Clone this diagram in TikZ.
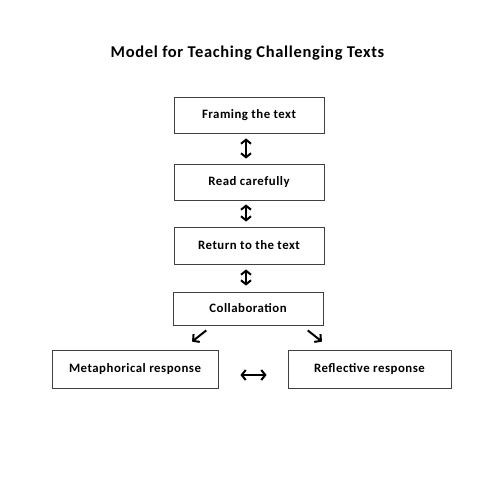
\documentclass[tikz,border=0pt]{standalone}
\usepackage{fontspec}
\setmainfont{Carlito}[LetterSpace=4]
\usetikzlibrary{arrows.meta}
\begin{document}
\begin{tikzpicture}[x=1pt,y=-1pt,
  box/.style={draw=black!75,line width=0.9pt,rectangle,inner sep=0pt,
    font=\fontsize{12.8}{14}\selectfont\bfseries},
  dbl/.style={line width=2pt,{Straight Barb[length=4pt,width=10pt]}-{Straight Barb[length=4pt,width=10pt]}},
  sgl/.style={line width=2pt,-{Straight Barb[length=4.5pt,width=10pt]}}]
\useasboundingbox (0,0) rectangle (495,495);
\node[font=\fontsize{16.5}{18}\selectfont\bfseries] (title) at (247.5,53) {Model for Teaching Challenging Texts};
\node[box,minimum width=150pt,minimum height=36pt] (frame) at (249,115) {Framing the text};
\node[box,minimum width=150pt,minimum height=36pt] (read) at (249,182) {Read carefully};
\node[box,minimum width=150pt,minimum height=37pt] (ret) at (249,245.5) {Return to the text};
\node[box,minimum width=150pt,minimum height=33pt] (coll) at (248,308.5) {Collaboration};
\node[box,minimum width=166pt,minimum height=38pt] (meta) at (135,369) {Metaphorical response};
\node[box,minimum width=163pt,minimum height=38pt] (refl) at (369.5,369) {Reflective response};
\draw[dbl,shorten <=5pt,shorten >=5pt] ([xshift=-3pt]frame.south) -- ([xshift=-3pt]read.north);
\draw[dbl,shorten <=4pt,shorten >=5pt] ([xshift=-3pt]read.south) -- ([xshift=-3pt]ret.north);
\draw[dbl,shorten <=5pt,shorten >=6pt] ([xshift=-3pt]ret.south) -- ([xshift=-2pt]coll.north);
\draw[dbl,shorten <=22pt,shorten >=21pt] ([yshift=-6pt]meta.east) -- ([yshift=-6pt]refl.west);
\draw[sgl,shorten <=8pt,shorten >=12.8pt] ([xshift=40pt]coll.south west) -- ([xshift=47pt]meta.north);
\draw[sgl,shorten <=8pt,shorten >=12.8pt] ([xshift=-22pt]coll.south east) -- ([xshift=-37.5pt]refl.north);
\end{tikzpicture}
\end{document}
